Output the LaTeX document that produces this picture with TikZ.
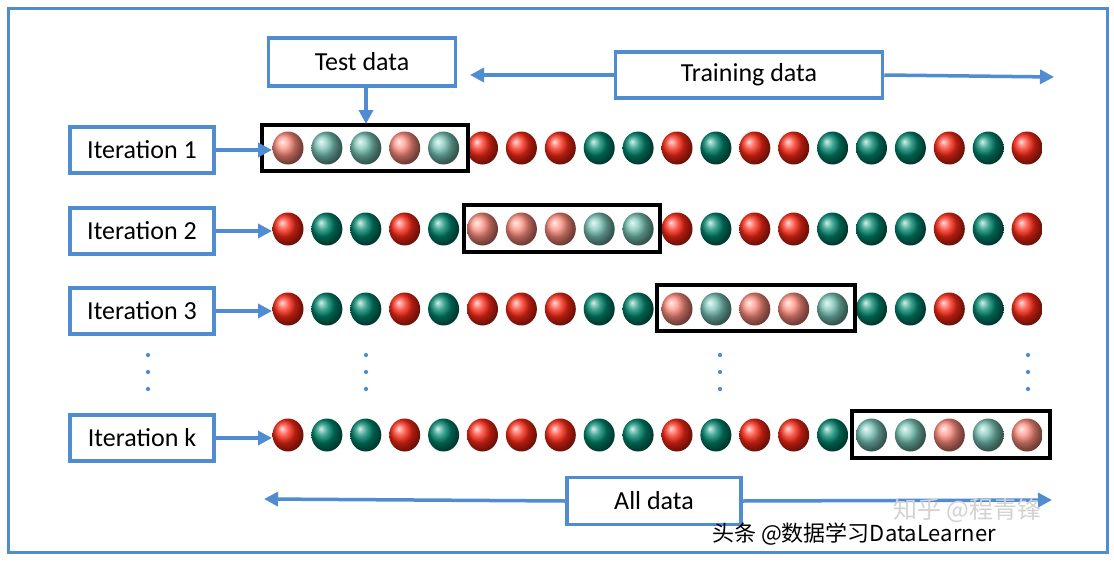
\documentclass[tikz,border=0pt]{standalone}
\usepackage{fontspec}
\setmainfont{Carlito}
\newfontfamily\cjk{Noto Sans CJK SC}
\usetikzlibrary{arrows.meta}
\definecolor{bl}{RGB}{80,140,210}
\definecolor{cR}{RGB}{255,40,20}
\definecolor{cG}{RGB}{0,135,110}
\definecolor{cs}{RGB}{255,140,125}
\definecolor{ct}{RGB}{120,195,180}
\tikzset{
 lbl/.style={draw=bl,line width=3.5pt,minimum height=46pt,font=\fontsize{26}{28}\selectfont,inner sep=0pt},
 barrow/.style={draw=bl,line width=3.5pt,-{Triangle[length=14pt,width=14pt]}},
 tbox/.style={draw=black,line width=3.5pt},
 vdot/.style={fill=bl,circle,inner sep=1.5pt}
}
\begin{document}
\begin{tikzpicture}[x=1pt,y=-1pt]
\useasboundingbox (0,0) rectangle (1114,562);
\fill[white] (0,0) rectangle (1114,562);
\draw[bl,line width=3pt] (8,8) rectangle (1107,552);
% rows
\foreach \row/\yy/\nm in {{s,t,t,s,t,R,R,R,G,G,R,G,R,R,G,G,G,R,G,R}/148/a,
  {R,G,G,R,G,s,s,s,t,t,R,G,R,R,G,G,G,R,G,R}/229/b,
  {R,G,G,R,G,R,R,R,G,G,s,t,s,s,t,G,G,R,G,R}/309/c,
  {R,G,G,R,G,R,R,R,G,G,R,G,R,R,G,t,t,s,t,s}/435/d}{
  \foreach \c [count=\i from 0] in \row {
    \shade[ball color=c\c] ({288+38.9*\i},\yy) ellipse (15.5pt and 16.5pt);
  }
  \coordinate (\nm0) at (272,\yy);
}
\draw[tbox] (262,125) rectangle (468,171);
\draw[tbox] (464,205) rectangle (660,252);
\draw[tbox] (657,285) rectangle (855,331);
\draw[tbox] (852,411) rectangle (1050,458);
% iteration labels
\node[lbl,minimum width=144pt] (i1) at (142,150) {Iteration 1};
\node[lbl,minimum width=144pt] (i2) at (142,231) {Iteration 2};
\node[lbl,minimum width=144pt] (i3) at (142,311) {Iteration 3};
\node[lbl,minimum width=144pt] (i4) at (142,438) {Iteration k};
\draw[barrow] (i1.east) -- (i1.east -| a0);
\draw[barrow] (i2.east) -- (i2.east -| b0);
\draw[barrow] (i3.east) -- (i3.east -| c0);
\draw[barrow] (i4.east) -- (i4.east -| d0);
% test data
\node[lbl,minimum width=187pt,minimum height=48pt] (td) at (362,62) {Test data};
\coordinate (tdt) at (366,124);
\draw[barrow] (td.south -| tdt) -- (tdt);
% training data
\node[lbl,minimum width=267pt,minimum height=46pt] (tr) at (749,75) {Training data};
\coordinate (trl) at (470,75);
\coordinate (trr) at (1054,77);
\draw[barrow] (tr.west) -- (trl);
\draw[barrow] (tr.east) -- (trr);
% all data
\node[lbl,minimum width=174pt,minimum height=47pt] (ad) at (654,501) {All data};
\coordinate (adl) at (264,499);
\coordinate (adr) at (1052,500);
\draw[barrow] (ad.west) -- (adl);
\draw[barrow] (ad.east) -- (adr);
% vertical dots
\foreach \xx in {148,366,720,1028}{
  \foreach \yy in {355,372,389} \node[vdot] at (\xx,\yy) {};
}
% watermarks
\node[font=\cjk\fontsize{24}{26}\selectfont,text=gray!35,anchor=west] (w1) at (890,510) {知乎 @程青锋};
\node[font=\cjk\fontsize{22}{24}\selectfont,anchor=west,inner sep=0pt] (w2) at (712,534) {头条 @数据学习DataLearner};
\end{tikzpicture}
\end{document}
